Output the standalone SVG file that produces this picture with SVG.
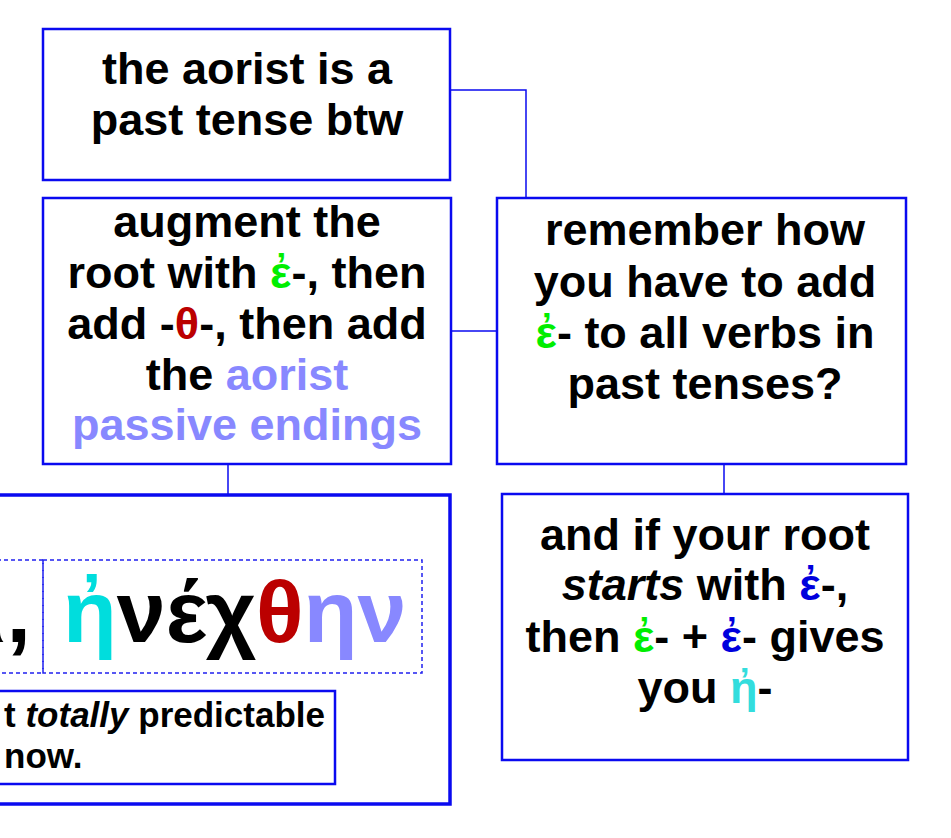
<svg xmlns="http://www.w3.org/2000/svg" width="951" height="838" viewBox="0 0 951 838">
<style>
.box{fill:#fff;stroke:#0a0af0;stroke-width:2.5}
.thick{fill:#fff;stroke:#0a0af0;stroke-width:3.5}
.dash{fill:none;stroke:#2020f0;stroke-width:1.5;stroke-dasharray:4 3}
.conn{fill:none;stroke:#0a0af0;stroke-width:1.5}
text{font-family:"Liberation Sans",Arial,sans-serif;font-weight:bold;fill:#000}
.t44{font-size:45px;text-anchor:middle}
.t35{font-size:35px}
.big{font-size:88px}
.g{fill:#00ee00}
.r{fill:#bb0000}
.l{fill:#8888ff}
.c{fill:#00dddd}
.c2{fill:#33dddd}
.b{fill:#0000dd}
.i{font-style:italic}
</style>
<rect width="951" height="838" fill="#fff"/>
<g id="connectors">
<polyline class="conn" points="450,90 526,90 526,198"/>
<line class="conn" x1="451" y1="331" x2="497" y2="331"/>
<line class="conn" x1="228" y1="464" x2="228" y2="495"/>
<line class="conn" x1="724" y1="464" x2="724" y2="494"/>
</g>
<g id="node-aorist-past">
<rect class="box" x="43" y="29" width="407" height="151"/>
<text class="t44" x="247" y="84">the aorist is a</text>
<text class="t44" x="247" y="135">past tense btw</text>
</g>
<g id="node-augment">
<rect class="box" x="43" y="198" width="408" height="266"/>
<text class="t44" x="247" y="237">augment the</text>
<text class="t44" x="247" y="288">root with <tspan class="g">ἐ</tspan>-, then</text>
<text class="t44" x="247" y="339">add -<tspan class="r">θ</tspan>-, then add</text>
<text class="t44" x="247" y="390">the <tspan class="l">aorist</tspan></text>
<text class="t44 l" x="247" y="440">passive endings</text>
</g>
<g id="node-remember">
<rect class="box" x="497" y="198" width="409" height="266"/>
<text class="t44" x="705" y="245">remember how</text>
<text class="t44" x="705" y="297">you have to add</text>
<text class="t44" x="705" y="348"><tspan class="g">ἐ</tspan>- to all verbs in</text>
<text class="t44" x="705" y="399">past tenses?</text>
</g>
<g id="node-principal-parts">
<rect class="thick" x="-10" y="495" width="460" height="309"/>
<rect class="dash" x="-10" y="560" width="53" height="113"/>
<rect class="dash" x="43" y="560" width="379" height="113"/>
<text class="big" x="31" y="642" text-anchor="end">ι,</text>
<text class="big" x="63" y="642"><tspan class="c">ἠ</tspan>νέχ<tspan class="r">θ</tspan><tspan class="l">ην</tspan></text>
<rect class="box" x="-10" y="691" width="345" height="93"/>
<text class="t35" x="325" y="727" text-anchor="end">t <tspan class="i">totally</tspan> predictable</text>
<text class="t35" x="4" y="768">now.</text>
</g>
<g id="node-starts-with">
<rect class="box" x="502" y="494" width="406" height="266"/>
<text class="t44" x="705" y="550">and if your root</text>
<text class="t44" x="705" y="600"><tspan class="i">starts</tspan> with <tspan class="b">ἐ</tspan>-,</text>
<text class="t44" x="705" y="652">then <tspan class="g">ἐ</tspan>- + <tspan class="b">ἐ</tspan>- gives</text>
<text class="t44" x="705" y="703">you <tspan class="c2">ἠ</tspan>-</text>
</g>
</svg>
